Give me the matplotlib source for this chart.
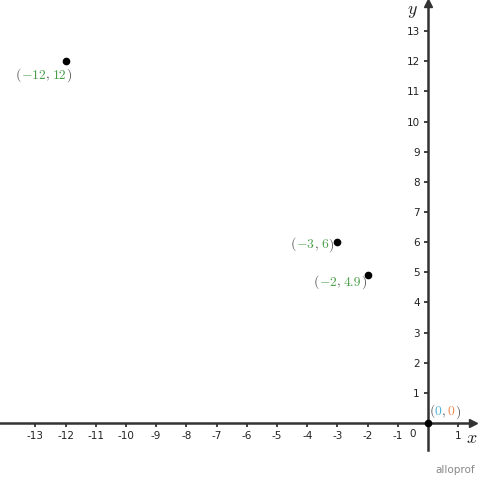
import matplotlib
matplotlib.use("Agg")
import matplotlib.pyplot as plt
from matplotlib.offsetbox import TextArea, HPacker, AnnotationBbox

plt.rcParams['mathtext.fontset'] = 'cm'
plt.rcParams['axes.unicode_minus'] = False

# Data
xs = [-12, -3, -2, 0]
ys = [12, 6, 4.9, 0]
x_labels_txt = ["-12", "-3", "-2", "0"]
y_labels_txt = ["12", "6", "4.9", "0"]
label_offsets = [(-16, -10), (-18, -2), (-20, -5), (12, 8)]
x_ticks = list(range(-13, 0)) + [1]
y_ticks = list(range(1, 14))

GREEN = '#4a9e4a'
GREY = '#555555'
AXC = '#333333'

fig = plt.figure(figsize=(4.8, 4.9), dpi=100)
ax = fig.add_axes([0, 0, 1, 1])
ax.set_xlim(-14.17, 1.72)
ax.set_ylim(-2.22, 14.03)

for s in ['top', 'right']:
    ax.spines[s].set_visible(False)
ax.spines['left'].set_position(('data', 0))
ax.spines['bottom'].set_position(('data', 0))
ax.spines['left'].set_bounds(-0.9, 13.85)
ax.spines['bottom'].set_bounds(-14.2, 1.45)
for s in ['left', 'bottom']:
    ax.spines[s].set_color(AXC)
    ax.spines[s].set_linewidth(1.8)

ax.plot([1.5], [0], marker='>', color=AXC, markersize=6, clip_on=False)
ax.plot([0], [13.92], marker='^', color=AXC, markersize=6, clip_on=False)

ax.set_xticks(x_ticks)
ax.set_xticklabels([str(t) for t in x_ticks])
ax.set_yticks(y_ticks)
ax.set_yticklabels([str(t) for t in y_ticks])
ax.tick_params(axis='both', direction='out', length=3, width=1.3, color=AXC,
               labelsize=7.5, labelcolor='#222222', pad=3)
ax.text(-0.5, -0.2, "0", ha='center', va='top', fontsize=7.5, color='#222222')

ax.text(1.45, -0.2, r'$x$', fontsize=13, ha='center', va='top', color='#222222')
ax.text(-0.53, 13.65, r'$y$', fontsize=13, ha='center', va='center', color='#222222')

ax.plot(xs, ys, 'o', color='black', markersize=4.5, zorder=5, clip_on=False)


def fmt(s):
    if s.startswith('-'):
        return r'$-$' + s[1:]
    return s


def label(xv, yv, xt, yt, off, c1=GREEN, c2=GREEN):
    fs = 9.8
    kw = dict(fontsize=fs, family='cmr10')
    inner = HPacker(children=[TextArea(',', textprops=dict(color=GREY, **kw)),
                              TextArea(fmt(yt), textprops=dict(color=c2, **kw))],
                    sep=2, pad=0, align='baseline')
    parts = [TextArea('(', textprops=dict(color=GREY, **kw)),
             TextArea(fmt(xt), textprops=dict(color=c1, **kw)),
             inner,
             TextArea(')', textprops=dict(color=GREY, **kw))]
    box = HPacker(children=parts, sep=0, pad=0, align='baseline')
    ab = AnnotationBbox(box, (xv, yv), xybox=off, xycoords='data',
                        boxcoords='offset points', frameon=False, pad=0)
    ax.add_artist(ab)


for i in range(len(xs)):
    if xs[i] == 0:
        label(xs[i], ys[i], x_labels_txt[i], y_labels_txt[i], label_offsets[i],
              c1='#4fb3d9', c2='#f08a4b')
    else:
        label(xs[i], ys[i], x_labels_txt[i], y_labels_txt[i], label_offsets[i])

fig.text(0.948, 0.04, "alloprof", ha='center', va='center', fontsize=7.5, color='#888888')

fig.savefig("out.png", dpi=100)
